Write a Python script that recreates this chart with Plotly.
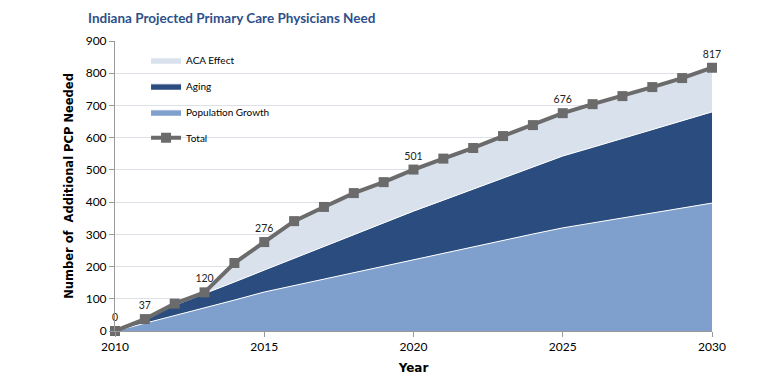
import plotly.graph_objects as go

years = list(range(2010, 2031))
total = [0, 37, 85, 120, 211, 276, 341, 385, 428, 462, 501, 535, 568, 605, 639, 676, 704, 729, 757, 785, 817]
pop_growth = [0, 24, 46, 70, 96, 121, 141, 162, 182, 203, 223, 242, 262, 281, 301, 320, 335, 351, 366, 382, 397]
pop_plus_aging = [0, 37, 80, 115, 152, 189, 226, 263, 299, 336, 372, 406, 440, 475, 509, 543, 570, 598, 625, 653, 680]
aging = [a - p for a, p in zip(pop_plus_aging, pop_growth)]
aca = [t - a for t, a in zip(total, pop_plus_aging)]
label_years = {2010: "0", 2011: "37", 2013: "120", 2015: "276", 2020: "501", 2025: "676", 2030: "817"}
labels = [label_years.get(y, "") for y in years]

font = "Lato, 'Open Sans', sans-serif"
bold_font = "'DejaVu Sans', 'Liberation Sans', sans-serif"
W, H = 768, 385
fig = go.Figure()
fig.add_trace(go.Scatter(x=years, y=pop_growth, name="Population Growth", stackgroup="s",
                         mode="lines", line=dict(color="white", width=1), fillcolor="#7f9fcc",
                         legendgroup="c", legendrank=3))
fig.add_trace(go.Scatter(x=years, y=aging, name="Aging", stackgroup="s",
                         mode="lines", line=dict(color="white", width=1), fillcolor="#2b4c7e",
                         legendgroup="b", legendrank=2))
fig.add_trace(go.Scatter(x=years, y=aca, name="ACA Effect", stackgroup="s",
                         mode="lines", line=dict(color="white", width=1), fillcolor="#d9e1ed",
                         legendgroup="a", legendrank=1))
fig.add_trace(go.Scatter(x=years, y=total, name="Total", mode="lines+markers+text",
                         line=dict(color="#6b6b6b", width=4),
                         marker=dict(symbol="square", size=10, color="#6b6b6b"),
                         text=labels, textposition="top center",
                         textfont=dict(size=10.5, color="#222", family=font),
                         cliponaxis=False, legendgroup="d", legendrank=4))

fig.update_layout(
    width=W, height=H,
    margin=dict(l=107, r=64, t=33, b=62, autoexpand=False),
    paper_bgcolor="white", plot_bgcolor="white",
    font=dict(family=font, size=12, color="black"),
    title=dict(text="<b>Indiana Projected Primary Care Physicians Need</b>",
               x=80/W, xanchor="left", y=1-10/H, yanchor="middle",
               font=dict(size=13.5, color="#2e4f8a", family=font)),
    showlegend=True,
    legend=dict(x=0.052, y=0.985, xanchor="left", yanchor="top",
                traceorder="grouped", tracegroupgap=7,
                font=dict(size=10, color="black", family=font),
                bgcolor="rgba(0,0,0,0)", itemwidth=30),
    xaxis=dict(range=[2010, 2030], tickvals=[2010, 2015, 2020, 2025, 2030],
               showgrid=False, showline=True, linecolor="#999", ticks="outside",
               ticklen=5, tickcolor="#999", zeroline=False,
               tickfont=dict(size=12, family=font),
               title=dict(text="<b>Year</b>", font=dict(size=12, family=bold_font), standoff=10)),
    yaxis=dict(range=[0, 900], tickvals=list(range(0, 901, 100)),
               showgrid=True, gridcolor="#dde2e8", showline=True, linecolor="#999",
               ticks="outside", ticklen=5, tickcolor="#999", zeroline=False,
               tickfont=dict(size=12, family=font),
               title=dict(text="<b>Number of  Additional PCP Needed</b>",
                          font=dict(size=11.5, family=bold_font), standoff=9)),
)
fig.write_html("out.html")
